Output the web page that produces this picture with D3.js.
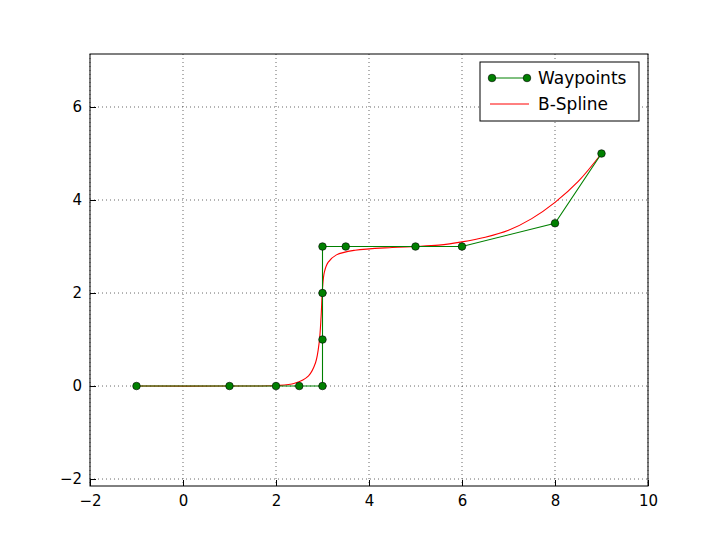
<!DOCTYPE html>
<html><head><meta charset="utf-8">
<script src="https://cdn.jsdelivr.net/npm/d3@7"></script>
<style>body{margin:0;background:#fff}text{font-family:"DejaVu Sans",sans-serif}</style>
</head><body><svg id="c" width="720" height="540"></svg>
<script>
const xTicks=[-2,0,2,4,6,8,10];
const yTicks=[-2,0,2,4,6];
const wpX=[-1,1,2,2.5,3,3,3,3,3.5,5,6,8,9];
const wpY=[0,0,0,0,0,1,2,3,3,3,3,3.5,5];
const spX=[-1,1,2,2.4,2.7,2.85,2.93,2.97,3.0,3.04,3.12,3.3,3.7,4.5,5,5.5,6,6.5,7,7.5,8,8.5,9];
const spY=[0,0,0.01,0.06,0.22,0.5,0.95,1.5,2.1,2.45,2.66,2.82,2.92,2.98,3.0,3.03,3.1,3.2,3.35,3.6,3.95,4.4,5];

const svg=d3.select("#c");
const L=90,R=648,T=54,B=486;
const x=d3.scaleLinear().domain([-2,10]).range([L,R]);
const y=d3.scaleLinear().domain([-2.15,7.14]).range([B,T]);
const g=svg.append("g");
xTicks.forEach(t=>g.append("line").attr("x1",x(t)).attr("x2",x(t)).attr("y1",T).attr("y2",B).attr("stroke","#000").attr("stroke-width",0.6).attr("stroke-dasharray","1,3"));
yTicks.forEach(t=>g.append("line").attr("y1",y(t)).attr("y2",y(t)).attr("x1",L).attr("x2",R).attr("stroke","#000").attr("stroke-width",0.6).attr("stroke-dasharray","1,3"));
const ax=d3.axisBottom(x).tickValues(xTicks).tickSizeInner(-6).tickSizeOuter(0).tickPadding(9).tickFormat(d=>d<0?"\u2212"+(-d):d);
const ay=d3.axisLeft(y).tickValues(yTicks).tickSizeInner(-6).tickSizeOuter(0).tickPadding(8).tickFormat(d=>d<0?"\u2212"+(-d):d);
const gx=svg.append("g").attr("transform",`translate(0,${B})`).call(ax);
const gy=svg.append("g").attr("transform",`translate(${L},0)`).call(ay);
[gx,gy].forEach(a=>{a.attr("font-size",null).attr("font-family",null);a.select(".domain").remove();a.selectAll("text").style("font-size","15px").style("font-family","DejaVu Sans");});
const line=d3.line().x(d=>x(d[0])).y(d=>y(d[1]));
svg.append("path").datum(spX.map((v,i)=>[v,spY[i]])).attr("d",line.curve(d3.curveCatmullRom)).attr("fill","none").attr("stroke","red").attr("stroke-width",1.1);
const wp=wpX.map((v,i)=>[v,wpY[i]]);
svg.append("path").datum(wp).attr("d",d3.line().x(d=>x(d[0])).y(d=>y(d[1]))).attr("fill","none").attr("stroke","green").attr("stroke-width",1.1);
svg.selectAll("circle.w").data(wp).join("circle").attr("cx",d=>x(d[0])).attr("cy",d=>y(d[1])).attr("r",3.8).attr("fill","green").attr("stroke","#000").attr("stroke-width",0.6);
svg.append("rect").attr("x",L).attr("y",T).attr("width",R-L).attr("height",B-T).attr("fill","none").attr("stroke","#000");
const lg=svg.append("g");
lg.append("rect").attr("x",480).attr("y",62).attr("width",159).attr("height",59).attr("fill","#fff").attr("stroke","#000");
lg.append("line").attr("x1",492).attr("x2",527).attr("y1",78).attr("y2",78).attr("stroke","green");
[492,527].forEach(cx=>lg.append("circle").attr("cx",cx).attr("cy",78).attr("r",3.8).attr("fill","green").attr("stroke","#000").attr("stroke-width",0.6));
lg.append("line").attr("x1",490).attr("x2",529).attr("y1",104).attr("y2",104).attr("stroke","red");
lg.append("text").attr("x",538).attr("y",84).style("font-size","17px").text("Waypoints");
lg.append("text").attr("x",538).attr("y",110).style("font-size","17px").text("B-Spline");
</script></body></html>
